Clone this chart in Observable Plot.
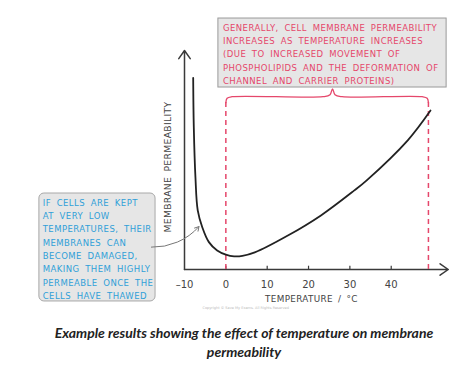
<!DOCTYPE html>
<html>
<head>
<meta charset="utf-8">
<script src="https://cdn.jsdelivr.net/npm/d3@7"></script>
<script src="https://cdn.jsdelivr.net/npm/@observablehq/plot@0.6"></script>
<style>
  body { margin: 0; background: #fff; }
  #caption { font: italic 700 14px Lato, sans-serif; color: #222; text-align: center; line-height: 19px; margin-top: 5px; padding-left: 14px; width: 460px; }
  text[aria-label="note"] { letter-spacing: 0.45px; word-spacing: 2.5px; }
  text[aria-label="axis-label"] { letter-spacing: 0.35px; word-spacing: 2px; }
</style>
</head>
<body>
<div id="chart"></div>
<div id="caption">Example results showing the effect of temperature on membrane<br>permeability</div>
<script>
// Curve (temperature °C, relative permeability 0–100)
const temperature = [-7.9, -7.75, -7.35, -6.8, -5.7, -4.1, -2.1, 0, 2, 4, 7, 15, 23, 31, 34, 44, 49.5];
const permeability = [87.5, 65, 42, 27, 19.3, 12.5, 8.7, 6.8, 6, 6.2, 7.8, 15.5, 24.7, 36, 40.6, 59, 72.6];
const xTicks = [-10, 0, 10, 20, 30, 40];
const dashedAt = [0, 49];
// curly brace over 0–49 °C
const braceX = [0, 0.3, 1.5, 23.5, 25.2, 25.8, 26.4, 28.1, 47.5, 48.7, 49];
const braceY = [76.2, 78.2, 78.9, 78.9, 79.8, 82.5, 79.8, 78.9, 78.9, 78.2, 76.2];
const redNote = [
  "GENERALLY, CELL MEMBRANE PERMEABILITY",
  "INCREASES AS TEMPERATURE INCREASES",
  "(DUE TO INCREASED MOVEMENT OF",
  "PHOSPHOLIPIDS AND THE DEFORMATION OF",
  "CHANNEL AND CARRIER PROTEINS)"
];
const blueNote = [
  "IF CELLS ARE KEPT",
  "AT VERY LOW",
  "TEMPERATURES, THEIR",
  "MEMBRANES CAN",
  "BECOME DAMAGED,",
  "MAKING THEM HIGHLY",
  "PERMEABLE ONCE THE",
  "CELLS HAVE THAWED"
];
const xLabel = "TEMPERATURE / °C";
const yLabel = "MEMBRANE PERMEABILITY";

const curve = temperature.map((t, i) => ({t, p: permeability[i]}));
const brace = braceX.map((x, i) => ({x, y: braceY[i]}));
const RED = "#e5476b", BLUE = "#2f9fd8", AX = "#3a3a3a";
const FONT = "DejaVu Sans";

const chart = Plot.plot({
  width: 474, height: 318,
  marginLeft: 184, marginRight: 25.4, marginTop: 50, marginBottom: 49,
  x: {domain: [-10, 54], axis: null},
  y: {domain: [0, 100], axis: null},
  style: {overflow: "visible", background: "white"},
  marks: [
    // red note box
    Plot.rect([0], {x1: -1.8, x2: 53.4, y1: 83.1, y2: 114.6, fill: "#e6e6e6", stroke: "#9a9a9a", strokeWidth: 1}),
    Plot.text([redNote.join("\n")], {x: -0.7, y: 113.4, textAnchor: "start", lineAnchor: "top", lineHeight: 1.57,
      fontSize: 8.5, fontFamily: FONT, fill: RED, ariaLabel: () => "note"}),
    // blue note box
    Plot.rect([0], {x1: -45.1, x2: -17.0, y1: -14.6, y2: 34.7, rx: 5, fill: "#e6e6e6", stroke: "#a8a8a8", strokeWidth: 1}),
    Plot.text([blueNote.join("\n")], {x: -44.3, y: 33.5, textAnchor: "start", lineAnchor: "top", lineHeight: 1.57,
      fontSize: 8.5, fontFamily: FONT, fill: BLUE, ariaLabel: () => "note"}),
    // axes
    Plot.arrow([0], {x1: -10, y1: 0, x2: -10, y2: 100, stroke: AX, strokeWidth: 1.5, headLength: 10, headAngle: 70}),
    Plot.arrow([0], {x1: -10, y1: 0, x2: 53.8, y2: 0, stroke: AX, strokeWidth: 1.5, headLength: 10, headAngle: 70}),
    Plot.ruleX(xTicks.slice(1), {x: d => d, y1: 0, y2: 1.5, stroke: AX, strokeWidth: 1.2}),
    Plot.text(xTicks, {x: d => d, y: 0, dy: 15, text: d => d < 0 ? "\u2013" + Math.abs(d) : String(d),
      fontSize: 10, fontFamily: FONT, fill: "#444"}),
    Plot.text([xLabel], {x: 20.7, y: 0, dy: 30, fontSize: 8.8, fontFamily: FONT, fill: "#444", ariaLabel: () => "axis-label"}),
    Plot.text([yLabel], {x: -10, y: 46.8, dx: -16, rotate: -90, fontSize: 9.2, fontFamily: FONT, fill: "#444", ariaLabel: () => "axis-label"}),
    // dashed red lines and brace
    Plot.ruleX(dashedAt, {x: d => d, y1: 0, y2: 76.4, stroke: RED, strokeWidth: 1.5, strokeDasharray: "5,4"}),
    Plot.line(brace, {x: "x", y: "y", curve: "catmull-rom", stroke: RED, strokeWidth: 1.3}),
    // curve
    Plot.line(curve, {x: "t", y: "p", curve: "catmull-rom", stroke: "#222", strokeWidth: 1.8}),
    // annotation arrow
    Plot.arrow([0], {x1: -18.0, y1: 10.2, x2: -6.5, y2: 19.6, bend: -25, stroke: "#777", strokeWidth: 1, headLength: 7}),
    // copyright
    Plot.text(["Copyright © Save My Exams. All Rights Reserved"], {x: 4.8, y: 0, dy: 38, fontSize: 3.5, fontFamily: FONT, fill: "#bbb"})
  ]
});
document.getElementById("chart").append(chart);
</script>
</body>
</html>
